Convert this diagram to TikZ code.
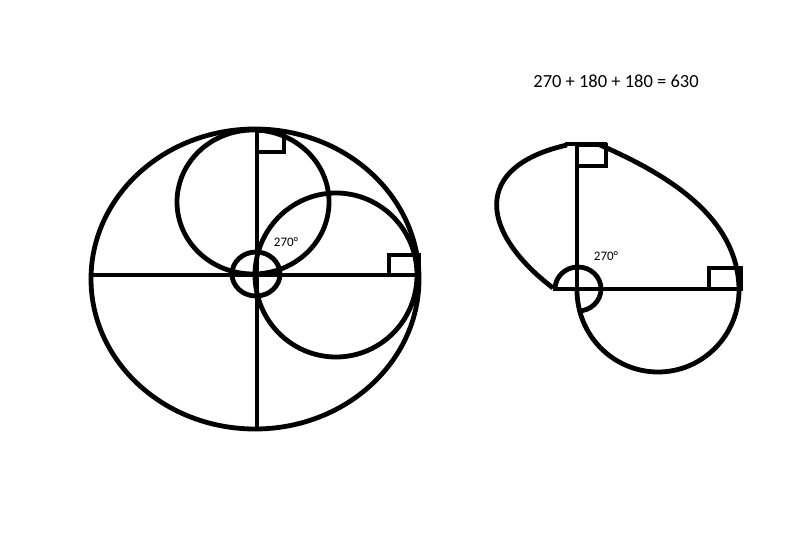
\documentclass[tikz,border=0pt]{standalone}
\usepackage{fontspec}
\setmainfont{Carlito}
\begin{document}
\begin{tikzpicture}[x=1pt,y=-1pt,
  thick line/.style={line width=4.8pt},
  mark line/.style={line width=3.5pt},
  lbl/.style={inner sep=0pt, font=\fontsize{13}{15}\selectfont},
  eqn/.style={inner sep=0pt, font=\fontsize{18.5}{21}\selectfont}]
\useasboundingbox (0,0) rectangle (797,545);
\fill[white] (0,0) rectangle (797,545);
% ---------- left figure ----------
\draw[thick line] (255,279) ellipse [x radius=164pt, y radius=150pt];
\draw[thick line] (253,202) ellipse [x radius=76pt, y radius=72pt];
\draw[thick line] (336,275) ellipse [x radius=81pt, y radius=82pt];
\draw[thick line] (256,274) ellipse [x radius=24pt, y radius=22pt];
\draw[thick line] (90,275) -- (418,275);
\draw[thick line] (257,130) -- (257,428);
\draw[mark line] (257,131) rectangle (284,152);
\draw[mark line] (389,255) rectangle (419,275);
\node[lbl] (a1) at (286,242) {270°};
% ---------- right figure ----------
\node[eqn] (eq) at (616,81) {270 + 180 + 180 = 630};
\draw[thick line] (567,145) .. controls (470,167) and (481,233) .. (553,288);
\draw[thick line] (600,145) .. controls (664,173) and (737,215) .. (739,288);
\draw[thick line] (577,290) arc[start angle=180, end angle=360, x radius=81pt, y radius=82pt];
\draw[thick line] (555,289) arc[start angle=180, end angle=-90, x radius=23pt, y radius=22pt];
\draw[thick line] (565,144) -- (607,144);
\draw[thick line] (577,143) -- (577,291);
\draw[thick line] (553,289) -- (741,289);
\draw[mark line] (577,145) rectangle (606,166);
\draw[mark line] (709,268) rectangle (741,289);
\node[lbl] (a2) at (606,256) {270°};
\end{tikzpicture}
\end{document}
